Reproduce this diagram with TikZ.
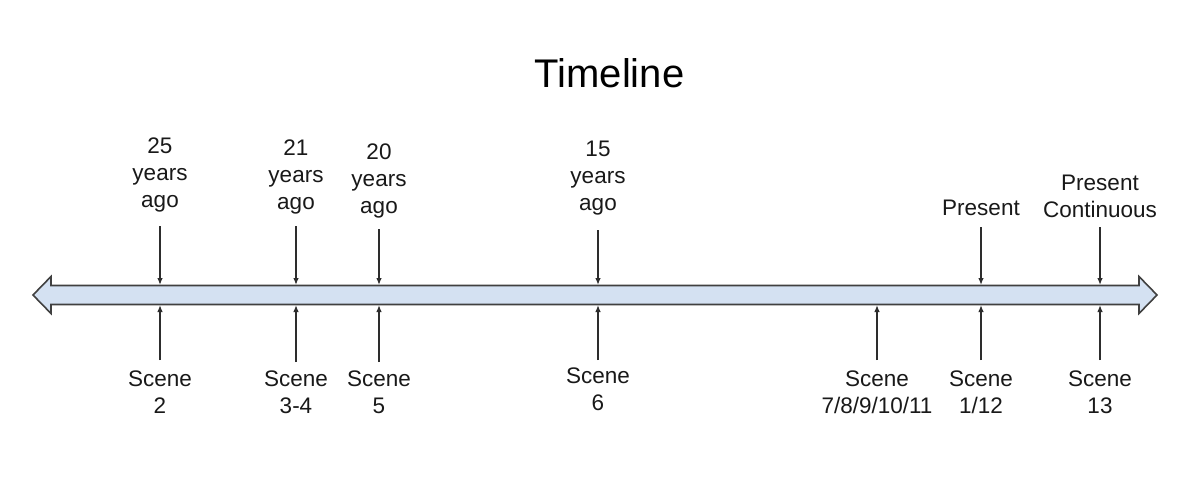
\documentclass[tikz,border=0pt]{standalone}
\usepackage{fontspec}
\setmainfont{Liberation Sans}
\usetikzlibrary{arrows.meta}
\definecolor{barfill}{RGB}{212,225,242}
\definecolor{barline}{RGB}{64,64,64}
\definecolor{tickc}{RGB}{45,45,45}
\definecolor{txt}{RGB}{25,25,25}
\begin{document}
\begin{tikzpicture}[x=1pt,y=-1pt,
  lab/.style={font=\fontsize{22.5}{27}\selectfont, text=txt, align=center, inner sep=0pt, anchor=base},
  tick/.style={draw=tickc, line width=1.3pt, -{Latex[length=7pt,width=5.5pt]}},
  barstyle/.style={draw=barline, fill=barfill, line width=1.6pt, line join=miter}]
\useasboundingbox (0,0) rectangle (1200,488);
\fill[white] (0,0) rectangle (1200,488);

% title
\node[font=\fontsize{40}{48}\selectfont, text=black, inner sep=0pt, anchor=base] (title) at (609.5,87) {Timeline};

% timeline bar (double arrow)
\draw[barstyle] (33,295) -- (51,276.5) -- (51,285.5) -- (1139,285.5) -- (1139,276.5)
  -- (1157,295) -- (1139,313.5) -- (1139,304.5) -- (51,304.5) -- (51,313.5) -- cycle;

% top labels (anchored at the baseline of their last line)
\node[lab] (u1) at (160,207) {25\\years\\ago};
\node[lab] (u2) at (296,209) {21\\years\\ago};
\node[lab] (u3) at (379,213) {20\\years\\ago};
\node[lab] (u4) at (598,210) {15\\years\\ago};
\node[lab] (u5) at (981,215) {Present};
\node[lab] (u6) at (1100,217) {Present\\Continuous};

% bottom labels
\node[lab] (d1) at (160,413) {Scene\\2};
\node[lab] (d2) at (296,413) {Scene\\3-4};
\node[lab] (d3) at (379,413) {Scene\\5};
\node[lab] (d4) at (598,410) {Scene\\6};
\node[lab] (d5) at (877,413) {Scene\\7/8/9/10/11};
\node[lab] (d6) at (981,413) {Scene\\1/12};
\node[lab] (d7) at (1100,413) {Scene\\13};

% arrow start points (below top labels) and bar contact points
\coordinate (su1) at (160,226);  \coordinate (tu1) at (160,285);
\coordinate (su2) at (296,226);  \coordinate (tu2) at (296,285);
\coordinate (su3) at (379,229);  \coordinate (tu3) at (379,285);
\coordinate (su4) at (598,230);  \coordinate (tu4) at (598,285);
\coordinate (su5) at (981,227);  \coordinate (tu5) at (981,285);
\coordinate (su6) at (1100,227); \coordinate (tu6) at (1100,285);

\coordinate (sd1) at (160,360);  \coordinate (td1) at (160,305);
\coordinate (sd2) at (296,362);  \coordinate (td2) at (296,305);
\coordinate (sd3) at (379,362);  \coordinate (td3) at (379,305);
\coordinate (sd4) at (598,360);  \coordinate (td4) at (598,305);
\coordinate (sd5) at (877,360);  \coordinate (td5) at (877,305);
\coordinate (sd6) at (981,360);  \coordinate (td6) at (981,305);
\coordinate (sd7) at (1100,360); \coordinate (td7) at (1100,305);

\foreach \i in {1,...,6} {\draw[tick] (su\i) -- (tu\i);}
\foreach \i in {1,...,7} {\draw[tick] (sd\i) -- (td\i);}
\end{tikzpicture}
\end{document}
